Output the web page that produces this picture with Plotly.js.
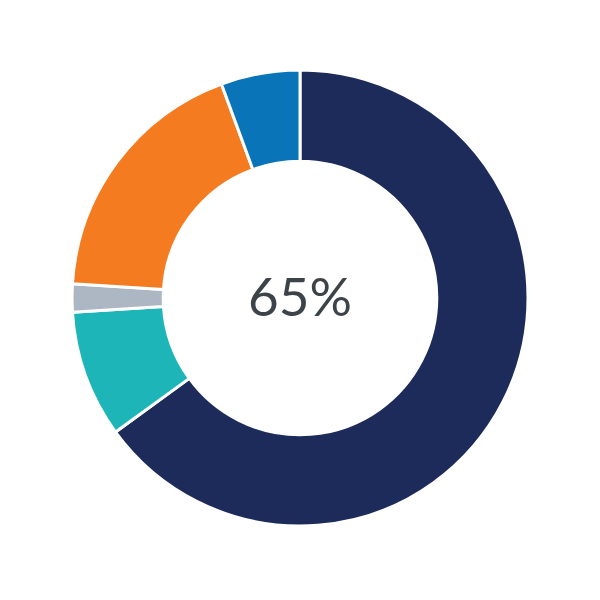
<!DOCTYPE html>
<html>
<head>
<meta charset="utf-8">
<script src="https://cdn.plot.ly/plotly-3.0.1.min.js"></script>
<style>html,body{margin:0;padding:0;background:#fff;}#chart{width:600px;height:600px;}</style>
</head>
<body>
<div id="chart"></div>
<script>
const labels = ["Navy", "Teal", "Gray", "Orange", "Blue"];
const values = [65, 9, 2, 18.4, 5.6];
const colors = ["#1c2b5a", "#1db5b8", "#adb6c3", "#f47b20", "#0a74b8"];
const centerText = "65%";

Plotly.newPlot("chart", [{
  type: "pie",
  labels: labels,
  values: values,
  hole: 0.6,
  sort: false,
  direction: "clockwise",
  rotation: 0,
  textinfo: "none",
  hoverinfo: "label+percent",
  marker: {colors: colors, line: {color: "#ffffff", width: 3}}
}], {
  width: 600, height: 600,
  margin: {l: 72, r: 72, t: 70, b: 74},
  showlegend: false,
  paper_bgcolor: "#ffffff",
  annotations: [{
    text: centerText, x: 0.5, y: 0.5, xref: "paper", yref: "paper",
    yshift: 3,
    showarrow: false, font: {family: "Lato", size: 53, color: "#3d4449"}
  }]
}, {displayModeBar: false, staticPlot: true});
</script>
</body>
</html>
